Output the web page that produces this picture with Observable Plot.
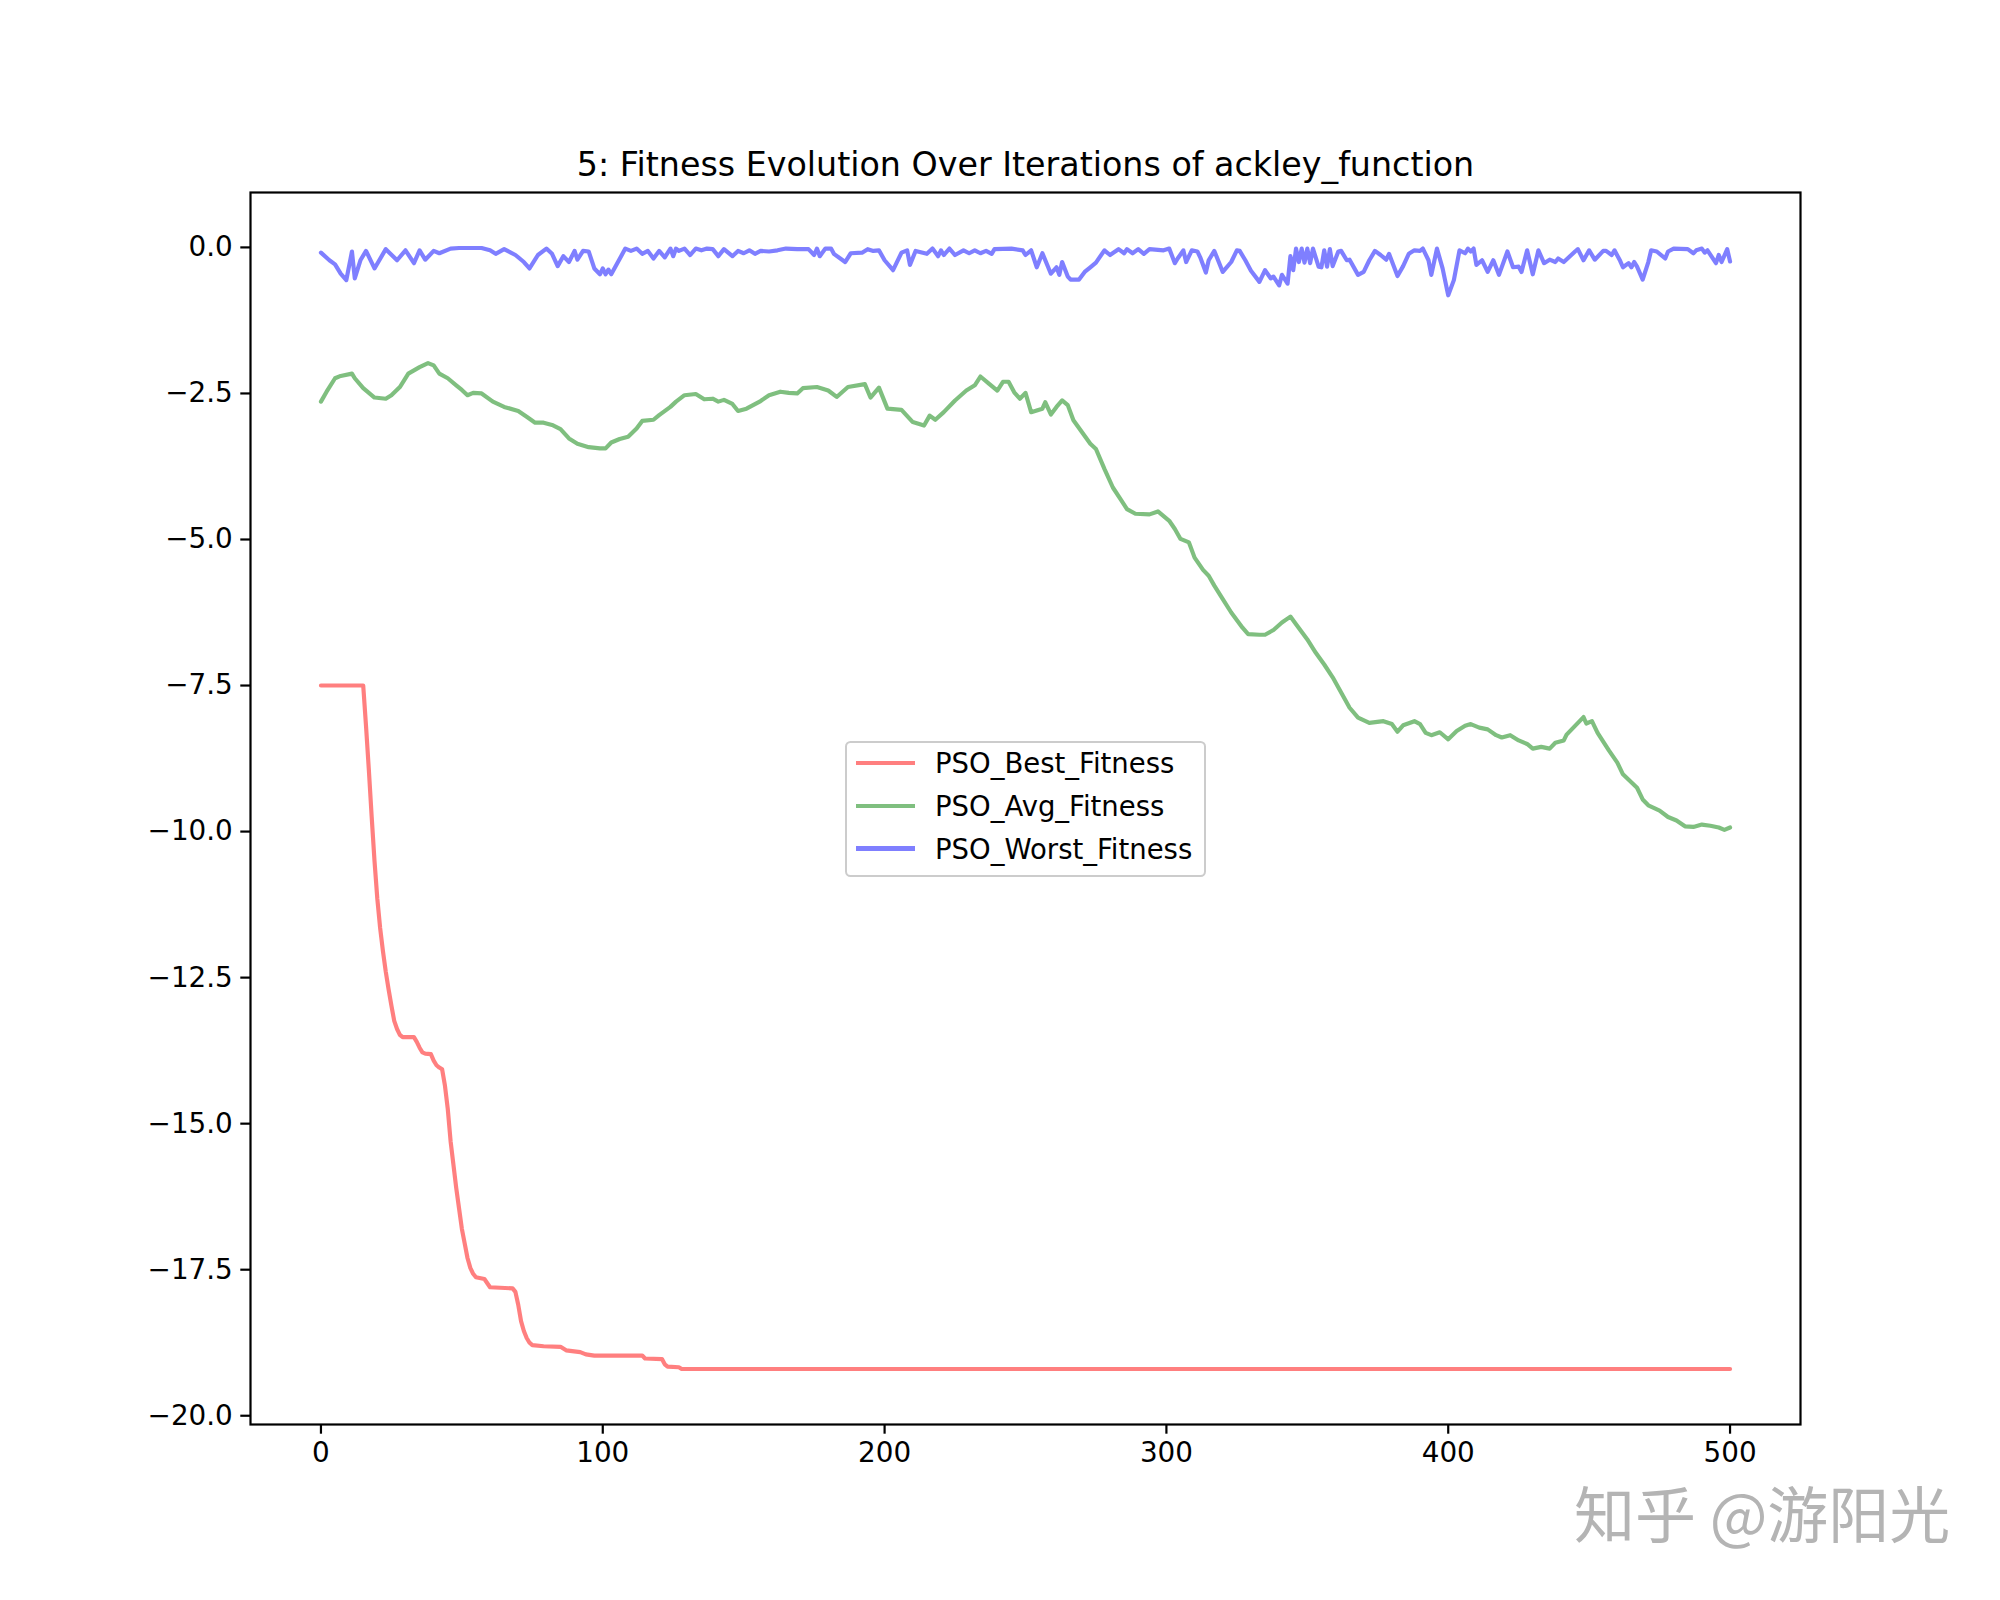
<!DOCTYPE html>
<html>
<head>
<meta charset="utf-8">
<script src="https://cdn.jsdelivr.net/npm/d3@7"></script>
<script src="https://cdn.jsdelivr.net/npm/@observablehq/plot@0.6"></script>
<style>
  body { margin: 0; background: #ffffff; }
  #wrap { position: relative; width: 2000px; height: 1600px; font-family: "DejaVu Sans", sans-serif; }
  #legend { position: absolute; left: 845px; top: 741px; width: 357px; height: 132px;
            border: 2.2px solid #cccccc; border-radius: 5.5px; background: rgba(255,255,255,0.8); }
  .row { position: absolute; left: 0; height: 40px; display: flex; align-items: center;
         font-size: 27.5px; color: #000; white-space: nowrap; }
  .sw { width: 59px; height: 4.2px; margin-left: 9px; margin-right: 20px; }
  #mark { position: absolute; left: 1574px; top: 1481px; font-size: 61px; line-height: 1;
          color: #b4b4b4; font-family: "Noto Sans CJK SC", sans-serif; white-space: nowrap; }
</style>
</head>
<body>
<div id="wrap"></div>
<script>
// ---- data ----
const titleText = "5: Fitness Evolution Over Iterations of ackley_function";
const seriesNames = ["PSO_Best_Fitness", "PSO_Avg_Fitness", "PSO_Worst_Fitness"];
const seriesColors = ["#ff0000", "#008000", "#0000ff"];
const xTicks = [0, 100, 200, 300, 400, 500];
const yTicks = [0, -2.5, -5, -7.5, -10, -12.5, -15, -17.5, -20];
const watermark = "知乎 @游阳光";

const bestIter = [0,15,16,17,18,19,20,21,22,23,24,25,26,27,28,29,33,34,35,36,37,39,40,41,42,43,44,45,46,47,48,49,50,51,52,53,54,55,58,60,68,69,70,71,72,73,74,75,79,85,87,92,94,97,114,115,121,122,123,127,128,500];
const bestFit = [-7.5,-7.5,-8.2,-8.95,-9.75,-10.5,-11.15,-11.65,-12.05,-12.4,-12.7,-12.98,-13.24,-13.38,-13.48,-13.52,-13.52,-13.6,-13.7,-13.78,-13.8,-13.81,-13.92,-14.0,-14.04,-14.07,-14.35,-14.75,-15.3,-15.7,-16.1,-16.45,-16.8,-17.05,-17.3,-17.47,-17.57,-17.63,-17.66,-17.8,-17.82,-17.88,-18.1,-18.38,-18.55,-18.67,-18.75,-18.79,-18.81,-18.82,-18.88,-18.91,-18.95,-18.97,-18.97,-19.02,-19.03,-19.12,-19.16,-19.17,-19.2,-19.2];

const avgIter = [0,2,5,7,11,12,15,19,23,25,28,31,35,38,40,42,45,48,50,52,54,57,61,65,70,73,76,79,82,85,88,91,95,99,101,103,106,109,112,114,118,120,124,126,129,133,136,139,141,143,146,148,151,156,159,163,166,169,171,176,180,183,187,193,195,198,201,206,210,214,216,218,221,225,229,232,234,237,240,242,244,246,248,250,252,256,257,259,261,263,265,267,270,273,275,278,281,284,286,289,294,297,301,303,305,308,310,313,315,317,320,323,327,329,333,335,338,341,344,346,350,353,356,359,362,365,368,372,377,380,382,384,388,390,392,394,397,400,403,406,408,411,414,417,419,422,425,428,430,433,436,438,441,442,445,448,449,451,453,457,460,462,467,469,471,475,478,481,484,487,490,493,496,498,500];
const avgFit = [-2.64,-2.47,-2.24,-2.2,-2.16,-2.24,-2.41,-2.57,-2.59,-2.53,-2.39,-2.16,-2.05,-1.98,-2.02,-2.16,-2.24,-2.36,-2.44,-2.53,-2.49,-2.5,-2.64,-2.73,-2.8,-2.9,-3.0,-3.0,-3.04,-3.11,-3.27,-3.36,-3.42,-3.44,-3.44,-3.34,-3.28,-3.24,-3.1,-2.97,-2.95,-2.87,-2.73,-2.64,-2.53,-2.51,-2.6,-2.59,-2.64,-2.61,-2.68,-2.8,-2.76,-2.63,-2.53,-2.47,-2.49,-2.5,-2.41,-2.39,-2.45,-2.56,-2.39,-2.34,-2.57,-2.4,-2.76,-2.78,-2.99,-3.05,-2.88,-2.95,-2.82,-2.62,-2.45,-2.36,-2.21,-2.33,-2.45,-2.3,-2.3,-2.48,-2.59,-2.49,-2.82,-2.76,-2.65,-2.86,-2.73,-2.62,-2.7,-2.96,-3.16,-3.36,-3.45,-3.79,-4.11,-4.33,-4.48,-4.56,-4.57,-4.52,-4.68,-4.82,-4.99,-5.05,-5.31,-5.52,-5.62,-5.79,-6.02,-6.25,-6.51,-6.62,-6.63,-6.63,-6.55,-6.42,-6.32,-6.45,-6.71,-6.94,-7.14,-7.36,-7.62,-7.88,-8.05,-8.14,-8.11,-8.16,-8.29,-8.18,-8.11,-8.16,-8.31,-8.35,-8.3,-8.42,-8.28,-8.19,-8.16,-8.22,-8.25,-8.35,-8.39,-8.35,-8.44,-8.5,-8.58,-8.55,-8.58,-8.48,-8.44,-8.34,-8.19,-8.04,-8.15,-8.11,-8.31,-8.61,-8.82,-9.02,-9.25,-9.45,-9.55,-9.64,-9.75,-9.81,-9.91,-9.92,-9.88,-9.9,-9.93,-9.97,-9.93];

const worstIter = [0,3,5,7,9,11,12,14,16,19,23,27,30,33,35,37,40,42,46,49,57,60,62,65,69,72,74,77,80,82,84,86,88,90,91,93,95,97,99,100,101,102,103,108,110,112,114,116,118,120,122,124,125,126,127,129,131,133,135,137,139,141,143,146,148,150,152,154,156,159,162,165,169,173,175,176,177,179,181,182,186,188,192,194,196,198,200,203,206,208,209,211,215,217,219,220,221,223,225,228,230,232,234,236,238,239,245,249,250,252,254,256,259,261,262,263,265,266,269,271,273,275,278,280,283,285,286,288,290,292,294,299,301,303,304,306,307,309,311,312,314,315,317,320,323,325,326,328,330,333,335,337,338,340,341,343,344,345,346,347,348,349,350,351,352,354,355,356,357,358,359,361,362,364,365,368,370,372,374,376,378,379,382,384,386,388,390,391,393,394,396,398,400,402,404,406,407,408,409,410,412,414,416,418,421,423,425,426,428,430,432,434,436,438,439,441,443,445,446,448,450,452,455,456,458,459,461,462,464,465,466,467,469,471,472,474,477,478,480,485,487,488,490,491,492,495,496,497,499,500];
const worstFit = [-0.09,-0.22,-0.29,-0.45,-0.56,-0.07,-0.53,-0.22,-0.06,-0.36,-0.03,-0.22,-0.05,-0.27,-0.05,-0.21,-0.06,-0.1,-0.02,-0.01,-0.01,-0.05,-0.11,-0.03,-0.13,-0.25,-0.36,-0.13,-0.02,-0.11,-0.32,-0.15,-0.25,-0.06,-0.21,-0.06,-0.07,-0.36,-0.46,-0.36,-0.46,-0.38,-0.46,-0.02,-0.06,-0.02,-0.11,-0.06,-0.19,-0.06,-0.17,-0.02,-0.15,-0.02,-0.06,-0.02,-0.13,-0.02,-0.05,-0.02,-0.03,-0.15,-0.03,-0.15,-0.06,-0.1,-0.05,-0.11,-0.06,-0.07,-0.05,-0.02,-0.03,-0.03,-0.13,-0.02,-0.15,-0.02,-0.02,-0.11,-0.25,-0.1,-0.09,-0.03,-0.06,-0.05,-0.22,-0.39,-0.09,-0.05,-0.3,-0.06,-0.11,-0.02,-0.15,-0.05,-0.13,-0.02,-0.13,-0.05,-0.1,-0.05,-0.1,-0.06,-0.11,-0.03,-0.02,-0.05,-0.13,-0.05,-0.34,-0.1,-0.45,-0.34,-0.47,-0.25,-0.5,-0.55,-0.55,-0.42,-0.34,-0.26,-0.05,-0.13,-0.03,-0.1,-0.03,-0.1,-0.03,-0.11,-0.03,-0.05,-0.02,-0.27,-0.19,-0.05,-0.25,-0.05,-0.07,-0.17,-0.43,-0.22,-0.06,-0.42,-0.25,-0.05,-0.06,-0.22,-0.4,-0.59,-0.39,-0.53,-0.5,-0.65,-0.47,-0.62,-0.15,-0.39,-0.02,-0.25,-0.02,-0.26,-0.02,-0.27,-0.02,-0.33,-0.34,-0.05,-0.33,-0.03,-0.32,-0.07,-0.06,-0.22,-0.21,-0.47,-0.42,-0.22,-0.06,-0.13,-0.21,-0.11,-0.49,-0.32,-0.11,-0.05,-0.06,-0.02,-0.22,-0.47,-0.02,-0.36,-0.82,-0.56,-0.05,-0.1,-0.02,-0.07,-0.02,-0.3,-0.22,-0.42,-0.22,-0.47,-0.07,-0.34,-0.33,-0.42,-0.05,-0.46,-0.05,-0.27,-0.21,-0.25,-0.19,-0.25,-0.16,-0.07,-0.03,-0.22,-0.05,-0.21,-0.06,-0.06,-0.13,-0.05,-0.23,-0.34,-0.27,-0.34,-0.25,-0.33,-0.55,-0.25,-0.05,-0.07,-0.19,-0.07,-0.02,-0.03,-0.1,-0.05,-0.02,-0.09,-0.05,-0.27,-0.13,-0.25,-0.03,-0.24];

// ---- build tables ----
const iters = [bestIter, avgIter, worstIter];
const fits = [bestFit, avgFit, worstFit];
const tables = seriesNames.map((name, s) =>
  iters[s].map((it, i) => ({series: name, iter: it, value: fits[s][i]})));

const lineMarks = tables.map((rows, s) =>
  Plot.line(rows, {x: "iter", y: "value", stroke: seriesColors[s], strokeOpacity: 0.5, strokeWidth: 4.17}));

const chart = Plot.plot({
  width: 2000,
  height: 1600,
  marginLeft: 250,
  marginRight: 200,
  marginTop: 192,
  marginBottom: 176,
  style: {fontFamily: "DejaVu Sans", fontSize: "27.8px", color: "#000", background: "#fff"},
  x: {domain: [-25, 525]},
  y: {domain: [-20.15, 0.94]},
  marks: [
    ...lineMarks,
    Plot.frame({stroke: "#000", strokeWidth: 2.2}),
    Plot.axisX({ticks: xTicks, tickSize: 9.7, tickPadding: 8, strokeWidth: 2.2, fontSize: 27.8,
                tickFormat: d => String(d), label: null}),
    Plot.axisY({ticks: yTicks, tickSize: 9.7, tickPadding: 8, strokeWidth: 2.2, fontSize: 27.8,
                tickFormat: d3.format(".1f"), label: null}),
    Plot.text([titleText], {text: d => d, frameAnchor: "top", dy: -16.7, lineAnchor: "bottom",
                            fontSize: 33.3, fill: "#000"})
  ]
});

const wrap = document.getElementById("wrap");
wrap.appendChild(chart);
chart.style.position = "absolute";
chart.style.left = "0px";
chart.style.top = "0px";

// legend
const legend = document.createElement("div");
legend.id = "legend";
const rowCenters = [20, 63, 105.5];
seriesNames.forEach((name, s) => {
  const row = document.createElement("div");
  row.className = "row";
  row.style.top = (rowCenters[s] - 20) + "px";
  const sw = document.createElement("div");
  sw.className = "sw";
  sw.style.background = seriesColors[s];
  sw.style.opacity = 0.5;
  const lab = document.createElement("span");
  lab.textContent = name;
  row.appendChild(sw);
  row.appendChild(lab);
  legend.appendChild(row);
});
wrap.appendChild(legend);

// watermark
const wm = document.createElement("div");
wm.id = "mark";
wm.textContent = watermark;
wrap.appendChild(wm);
</script>
</body>
</html>
